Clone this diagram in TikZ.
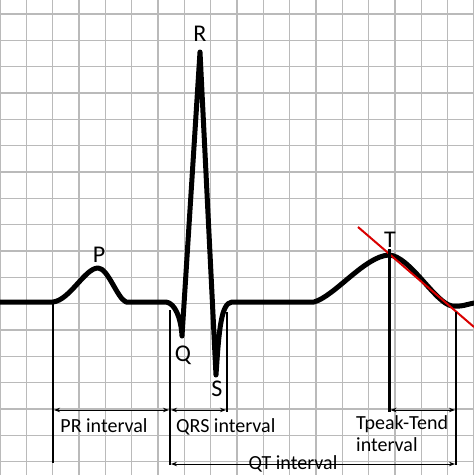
\documentclass[tikz,border=0pt]{standalone}
\usepackage{fontspec}
\setmainfont{Carlito}
\usetikzlibrary{arrows.meta}
\begin{document}
\begin{tikzpicture}[x=1pt,y=-1pt,
  gridline/.style={draw=black!27, line width=1.2pt},
  ecg/.style={line width=5pt, line join=round, line cap=round},
  marker/.style={line width=2.2pt},
  dim/.style={line width=1pt, {Stealth[length=6pt,width=4.5pt]}-{Stealth[length=6pt,width=4.5pt]}},
  lbl/.style={font=\fontsize{20}{23}\selectfont, inner sep=0pt},
  wave/.style={font=\fontsize{24}{26}\selectfont, inner sep=0pt, anchor=base}]
\useasboundingbox (0,0) rectangle (474,475);
\fill[white] (0,0) rectangle (474,475);
% grid
\foreach \k in {0,...,18} \draw[gridline] (\k*26.333,0) -- (\k*26.333,475);
\foreach \k in {0,...,17} \draw[gridline] (0,14+\k*26.333) -- (474,14+\k*26.333);
% ECG trace
\draw[ecg] (0,302) -- (53,302)
  .. controls (70,300) and (85,268) .. (98,268)
  .. controls (108,268) and (117,298) .. (126,302)
  -- (166,302)
  .. controls (175,303) and (181,318) .. (182,336)
  -- (200,52) -- (216,375)
  .. controls (219,330) and (221,303) .. (232,302)
  -- (314,302)
  .. controls (335,296) and (365,256) .. (389,255)
  .. controls (410,256) and (435,303) .. (452,306)
  .. controls (462,307) and (468,304) .. (474,303);
% tangent line
\draw[line width=2pt, red!85!black] (358,227) -- (474,327);
% wave labels
\node[wave] (lR) at (200,41) {R};
\node[wave] (lP) at (99,262) {P};
\node[wave] (lQ) at (183,361) {Q};
\node[wave] (lS) at (217,396) {S};
\node[wave] (lT) at (390,247) {T};
% marker lines
\coordinate (v1t) at (53,302);  \coordinate (v1b) at (53,463);
\coordinate (v2t) at (170,310); \coordinate (v2b) at (170,465);
\coordinate (v3t) at (227,312); \coordinate (v3b) at (227,412);
\coordinate (v4t) at (389.5,249); \coordinate (v4b) at (389.5,412);
\coordinate (v5t) at (456,312); \coordinate (v5b) at (456,465);
\draw[marker] (v1t) -- (v1b);
\draw[marker] (v2t) -- (v2b);
\draw[marker] (v3t) -- (v3b);
\draw[marker] (v4t) -- (v4b);
\draw[marker] (v5t) -- (v5b);
% dimension arrows
\coordinate (pr1) at (54,410);  \coordinate (pr2) at (169,410);
\coordinate (qrs1) at (171,410); \coordinate (qrs2) at (226,410);
\coordinate (tp1) at (390.5,410); \coordinate (tp2) at (455,410);
\coordinate (qt1) at (171,464); \coordinate (qt2) at (455,464);
\draw[dim] (pr1) -- (pr2);
\draw[dim] (qrs1) -- (qrs2);
\draw[dim] (tp1) -- (tp2);
\draw[dim] (qt1) -- (qt2);
% interval labels
\node[lbl, anchor=base] (tPR) at (104,432) {PR interval};
\node[lbl, anchor=base west] (tQRS) at (176,432) {QRS interval};
\node[lbl, anchor=base west] (tTP1) at (356,429) {Tpeak-Tend};
\node[lbl, anchor=base west] (tTP2) at (356,451) {interval};
\node[lbl, anchor=base] (tQT) at (293,469) {QT interval};
\end{tikzpicture}
\end{document}
